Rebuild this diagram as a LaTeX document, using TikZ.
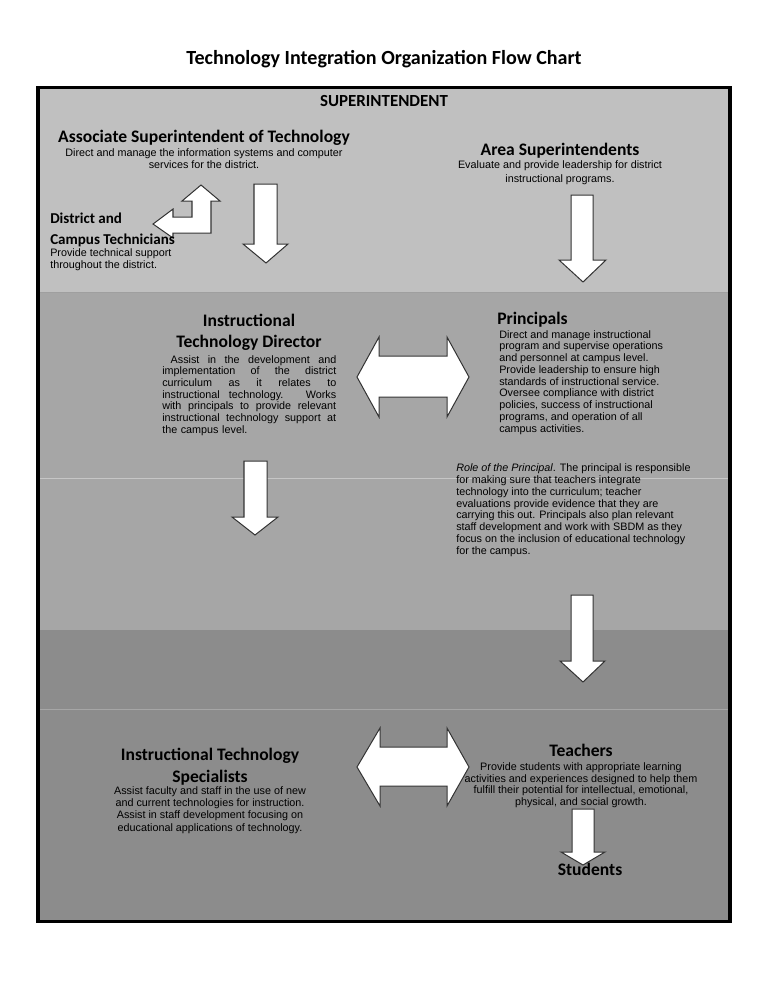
\documentclass[tikz,border=0pt]{standalone}
\usepackage{fontspec}
\setmainfont{Carlito}
\newfontfamily\descfont{Liberation Sans}
\usepackage{tikz}
\usetikzlibrary{positioning}
\definecolor{bandlight}{gray}{0.753}
\definecolor{bandmid}{gray}{0.651}
\definecolor{banddark}{gray}{0.549}
\definecolor{arrowline}{gray}{0.2}
\newcommand{\jline}[1]{{\spaceskip=0pt\xspaceskip=0pt\makebox[138.7pt][s]{#1}}}

\begin{document}
\begin{tikzpicture}[x=0.797pt,y=-0.797pt,
    head/.style={font=\bfseries\fontsize{14}{16}\selectfont, inner sep=0pt, align=center},
    desc/.style={font=\descfont\fontsize{8.6}{9.35}\selectfont, inner sep=0pt},
    blockarrow/.style={draw=arrowline, fill=white, line width=0.8pt, line join=miter}]
  \useasboundingbox (0,0) rectangle (768,994);

  % Draw the three grey bands of the chart
  \fill[bandlight] (38,87) rectangle (730,292);
  \fill[bandmid] (38,292) rectangle (730,630);
  \fill[banddark] (38,630) rectangle (730,921);
  \draw[gray!75!white, line width=0.8pt] (39,292) -- (729,292);
  \draw[gray!45!white, line width=0.8pt] (39,478) -- (729,478);
  \draw[gray!70!white, line width=0.8pt] (39,709) -- (729,709);
  \draw[line width=2.4pt] (38,87) rectangle (730,921);

  % Draw the block arrows
  \draw[blockarrow] (254,184) -- (277,184) -- (277,244) -- (288,244) -- (266,263) -- (243,244) -- (254,244) -- cycle;
  \draw[blockarrow] (153,224) -- (173,209) -- (173,217) -- (192,217) -- (192,201) -- (182,201) -- (201,185)
    -- (220,201) -- (211,201) -- (211,233) -- (173,233) -- (173,238) -- cycle;
  \draw[blockarrow] (571,195) -- (593,195) -- (593,260) -- (606,260) -- (583,282) -- (559,260) -- (571,260) -- cycle;
  \draw[blockarrow] (357,377) -- (379,337) -- (379,356) -- (447,356) -- (447,337) -- (469,377)
    -- (447,417) -- (447,397) -- (379,397) -- (379,417) -- cycle;
  \draw[blockarrow] (244,461) -- (267,461) -- (267,517) -- (278,517) -- (255,535) -- (232,517) -- (244,517) -- cycle;
  \draw[blockarrow] (571,595) -- (593,595) -- (593,661) -- (605,661) -- (583,682) -- (560,661) -- (571,661) -- cycle;
  \draw[blockarrow] (357,767) -- (380,728) -- (380,747) -- (447,747) -- (447,728) -- (469,767)
    -- (447,806) -- (447,786) -- (380,786) -- (380,806) -- cycle;
  \draw[blockarrow] (572,809) -- (594,809) -- (594,852) -- (605,852) -- (583,865) -- (561,852) -- (572,852) -- cycle;

  % Title and top level
  \node[head, font=\bfseries\fontsize{16}{18}\selectfont, anchor=base] (title) at (384,64) {Technology Integration Organization Flow Chart};
  \node[head, font=\bfseries\fontsize{13.5}{16}\selectfont, anchor=base] (supt) at (384,106) {SUPERINTENDENT};

  % Associate Superintendent and technicians
  \node[head, anchor=base] (assoc) at (204,142) {Associate Superintendent of Technology};
  \node[desc, align=center, anchor=base] (assocdesc) at (204,168) {Direct and manage the information systems and computer\\services for the district.};
  \node[head, font=\bfseries\fontsize{12}{16}\selectfont, anchor=base west, align=left] (tech) at (50,244) {District and\\Campus Technicians};
  \node[desc, align=left, anchor=base west] (techdesc) at (50,268) {Provide technical support\\throughout the district.};

  % Area Superintendents
  \node[head, anchor=base] (area) at (560,155) {Area Superintendents};
  \node[desc, align=center, anchor=base, font=\descfont\fontsize{8.6}{10.5}\selectfont] (areadesc) at (560,182) {Evaluate and provide leadership for district\\instructional programs.};

  % Instructional Technology Director
  \node[head, anchor=base] (itd) at (249,347) {Instructional\\Technology Director};
  \node[desc, text width=138.7pt, align=left, anchor=base west] (itddesc) at (162,363) {%
    \jline{\ Assist in the development and}\\
    \jline{implementation of the district}\\
    \jline{curriculum as it relates to}\\
    \jline{instructional technology. Works}\\
    \jline{with principals to provide relevant}\\
    \jline{instructional technology support at}\\
    the campus level.};

  % Principals
  \node[head, anchor=base west] (prin) at (497,324) {Principals};
  \node[desc, align=left, anchor=base west] (prindesc) at (499,432) {Direct and manage instructional\\program and supervise operations\\and personnel at campus level.\\Provide leadership to ensure high\\standards of instructional service.\\Oversee compliance with district\\policies, success of instructional\\programs, and operation of all\\campus activities.};
  \node[desc, align=left, anchor=base west] (role) at (456,554) {\textit{Role of the Principal}. The principal is responsible\\for making sure that teachers integrate\\technology into the curriculum; teacher\\evaluations provide evidence that they are\\carrying this out. Principals also plan relevant\\staff development and work with SBDM as they\\focus on the inclusion of educational technology\\for the campus.};

  % Specialists, teachers and students
  \node[head, anchor=base, font=\bfseries\fontsize{14}{17.5}\selectfont] (its) at (210,782) {Instructional Technology\\Specialists};
  \node[desc, align=center, anchor=base, font=\descfont\fontsize{8.6}{9.6}\selectfont] (itsdesc) at (210,831) {Assist faculty and staff in the use of new\\and current technologies for instruction.\\Assist in staff development focusing on\\educational applications of technology.};
  \node[head, anchor=base] (teach) at (581,756) {Teachers};
  \node[desc, align=center, anchor=base, font=\descfont\fontsize{8.6}{9.1}\selectfont] (teachdesc) at (581,805) {Provide students with appropriate learning\\activities and experiences designed to help them\\fulfill their potential for intellectual, emotional,\\physical, and social growth.};
  \node[head, anchor=base] (stud) at (590,875) {Students};
\end{tikzpicture}
\end{document}
